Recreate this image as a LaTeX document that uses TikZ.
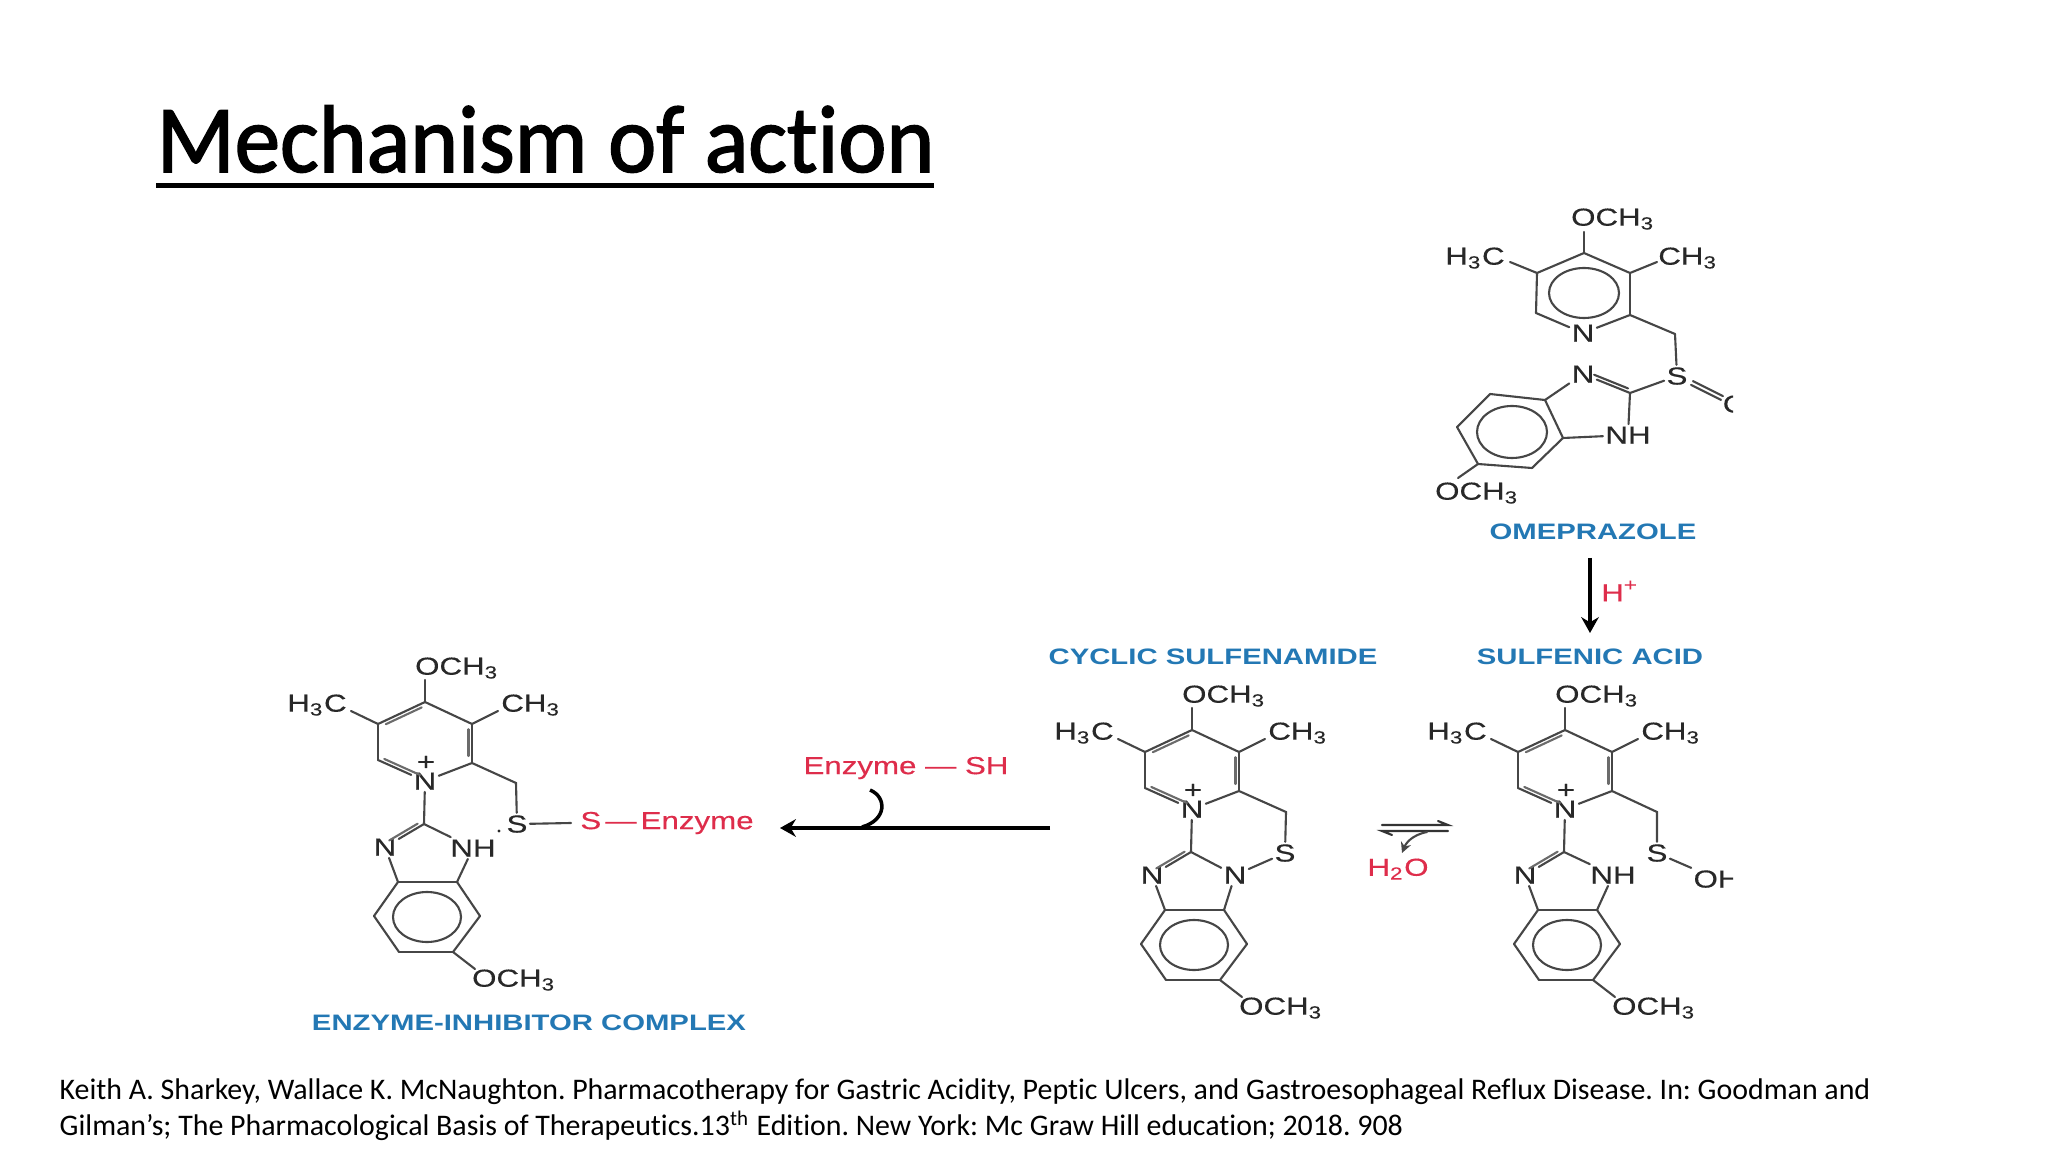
\documentclass[tikz,border=0pt]{standalone}
\usepackage{fontspec}
\usetikzlibrary{arrows.meta,calc}
\setmainfont[Ligatures=NoCommon]{Carlito}
\newfontfamily\titlefamily[FakeBold=1.6,FakeStretch=.95,Ligatures=NoCommon]{Carlito}
\newfontfamily\chemfamily[FakeStretch=1.27,FakeBold=.3]{Liberation Sans}
\newfontfamily\namefamily[FakeStretch=1.31]{Liberation Sans Bold}
\definecolor{bondgray}{RGB}{70,70,70}
\definecolor{atomgray}{RGB}{40,40,40}
\definecolor{namecolor}{RGB}{35,120,180}
\definecolor{agentcolor}{RGB}{222,45,75}
\frenchspacing
\tikzset{
	bond/.style={draw=bondgray, line width=.6pt, line cap=round},
	atom/.style={text=atomgray, inner sep=.5pt, yshift=-.3pt, font=\chemfamily\fontsize{7}{8}\selectfont},
	agent/.style={atom, text=agentcolor},
	drugname/.style={text=namecolor, inner sep=0pt, yshift=-.3pt, font=\namefamily\fontsize{6.36}{7}\selectfont},
	bigarrow/.style={draw=black, line width=1pt, -{Stealth[length=4.5pt,width=5pt]}},
}
% the pyridinium + benzimidazole part shared by the three lower structures
\newcommand{\drugcore}[3]{
	\begin{scope}[shift={(#2,#3)}]
		\node[atom] (#1och) at (1224,695) {OCH\textsubscript{3}};
		\node[atom] (#1hc) at (1084,732) {H\textsubscript{3}C};
		\node[atom] (#1ch) at (1298,732) {CH\textsubscript{3}};
		\node[atom] (#1np) at (1192,808) {N};
		\node[atom] (#1plus) at (1193,790) {+};
		\node[atom] (#1nl) at (1152,874) {N};
		\node[atom] (#1oc) at (1281,1007) {OCH\textsubscript{3}};
		\coordinate (#1a) at (1192,708);
		\coordinate (#1b) at (1118,739);
		\coordinate (#1d) at (1265,739);
		\coordinate (#1e) at (1242,997);
		\coordinate (#1c4) at (1192,730);
		\coordinate (#1c5) at (1145,752);
		\coordinate (#1c3) at (1239,752);
		\coordinate (#1c6) at (1145,788);
		\coordinate (#1c2) at (1239,791);
		\coordinate (#1cn) at (1191,852);
		\coordinate (#1h1) at (1165,910);
		\coordinate (#1h2) at (1224,910);
		\coordinate (#1h3) at (1247,944);
		\coordinate (#1h4) at (1220,980);
		\coordinate (#1h5) at (1166,980);
		\coordinate (#1h6) at (1141,944);
		\coordinate (#1m) at (1194,945);
		\foreach \a/\b in {c4/a,c5/b,c3/d,c4/c5,c4/c3,c3/c2,c5/c6,c6/np,c2/np,np/cn,nl/cn,nl/h1,h1/h2,h2/h3,h3/h4,h4/h5,h5/h6,h6/h1,h4/e}
			\draw[bond] (#1\a) -- (#1\b);
		% inner lines of the double bonds
		\foreach \a/\b/\s in {c4/c5/90,c3/c2/-90,c6/np/90,cn/nl/-90}
			\draw[bond, draw=bondgray!80, shorten >=2pt, shorten <=1.5pt] ($(#1\a)!1pt!\s:(#1\b)$) -- ($(#1\b)!1pt!-\s:(#1\a)$);
		\draw[bond] (#1m) ellipse [x radius=34, y radius=25];
	\end{scope}
}

\begin{document}
\begin{tikzpicture}[x=.01cm, y=-.01cm]
	\useasboundingbox (0,0) rectangle (2048,1152);

	% title
	\node[anchor=base west, inner sep=0pt, font=\titlefamily\fontsize{27.3}{30}\selectfont] (title) at (156,172) {Mechanism of action};
	\coordinate (ulstart) at (156,185.5);
	\coordinate (ulend) at (934,185.5);
	\draw[line width=1.5pt] (ulstart) -- (ulend);

	% omeprazole
	\node[atom] (omeoch) at (1613,218) {OCH\textsubscript{3}};
	\node[atom] (omehc) at (1475,257) {H\textsubscript{3}C};
	\node[atom] (omech) at (1688,257) {CH\textsubscript{3}};
	\node[atom] (omen) at (1583,332) {N};
	\node[atom] (omenb) at (1583,373) {N};
	\node[atom] (omes) at (1677,375) {S};
	\node[atom] (omenh) at (1628,434) {NH};
	\node[atom] (omeocb) at (1477,492) {OCH\textsubscript{3}};
	\coordinate (omea) at (1584,232);
	\coordinate (omeb) at (1510,262);
	\coordinate (omed) at (1657,262);
	\coordinate (omec4) at (1584,253);
	\coordinate (omec3) at (1630,273);
	\coordinate (omec2) at (1630,315);
	\coordinate (omec5) at (1537,273);
	\coordinate (omec6) at (1536,313);
	\coordinate (omecb) at (1675,334);
	\coordinate (omecn) at (1630,393);
	\coordinate (omeh1) at (1490,394);
	\coordinate (omeh2) at (1545,400);
	\coordinate (omeh3) at (1563,438);
	\coordinate (omeh4) at (1532,468);
	\coordinate (omeh5) at (1478,464);
	\coordinate (omeh6) at (1457,427);
	\coordinate (omee) at (1458,478);
	\coordinate (omem) at (1584,293);
	\coordinate (omen2) at (1512,432);
	\coordinate (omeo1) at (1692,383);
	\coordinate (omeo2) at (1722,398);
	\foreach \a/\b in {c4/a,c5/b,c3/d,c4/c5,c4/c3,c3/c2,c5/c6,c6/n,c2/n,c2/cb,cb/s,s/cn,nb/cn,nh/cn,nb/h2,nh/h3,h1/h2,h2/h3,h3/h4,h4/h5,h5/h6,h6/h1,h5/e}
		\draw[bond] (ome\a) -- (ome\b);
	\draw[bond, shorten >=3pt, shorten <=1pt] ($(omecn)!1pt!-90:(omenb)$) -- ($(omenb)!1pt!90:(omecn)$);
	\draw[bond] (omem) ellipse [x radius=35, y radius=25];
	\draw[bond] (omen2) ellipse [x radius=35, y radius=26];
	\draw[bond] ($(omeo1)!.6pt!90:(omeo2)$) -- ($(omeo2)!.6pt!-90:(omeo1)$);
	\draw[bond] ($(omeo1)!.6pt!-90:(omeo2)$) -- ($(omeo2)!.6pt!90:(omeo1)$);
	\node[drugname] (omename) at (1593,531) {OMEPRAZOLE};
	\coordinate (omearrow) at (1590,558);
	\node[drugname, inner sep=0pt] (sulname) at (1590,656) {SULFENIC ACID};
	\coordinate (sularrow) at (1590,633);
	\draw[bigarrow] (omearrow) -- (sularrow);
	\node[agent] (hplus) at (1620,590) {H\textsuperscript{+}};

	% sulfenic acid
	\drugcore{sul}{373}{0}
	\node[atom] (sulnh) at (1613,874) {NH};
	\node[atom] (suls) at (1657,852) {S};
	\coordinate (sulch2) at (1657,812);
	\draw[bond] (sulc2) -- (sulch2) -- (suls);
	\draw[bond] (sulcn) -- (sulnh);
	\draw[bond] (sulnh) -- (sulh2);

	% right edge of the cropped figure
	\begin{scope}
		\clip (1500,380) rectangle (1733,900);
		\node[atom] (omeo) at (1735,403) {O};
		\node[atom] (suloh) at (1717,878) {OH};
		\draw[bond] (suls) -- (suloh);
	\end{scope}

	% cyclic sulfenamide
	\node[drugname] (cycname) at (1213,656) {CYCLIC SULFENAMIDE};
	\drugcore{cyc}{0}{0}
	\node[atom] (cycnr) at (1235,874) {N};
	\node[atom] (cycs) at (1285,852) {S};
	\coordinate (cycch2) at (1286,812);
	\draw[bond] (cycc2) -- (cycch2) -- (cycs);
	\draw[bond] (cyccn) -- (cycnr);
	\draw[bond] (cycnr) -- (cycs);
	\draw[bond] (cycnr) -- (cych2);

	% equilibrium
	\coordinate (eqa) at (1382,825);
	\coordinate (eqb) at (1448,825);
	\coordinate (eqc) at (1438,821);
	\coordinate (eqd) at (1448,831);
	\coordinate (eqe) at (1382,831);
	\coordinate (eqf) at (1392,835);
	\draw[bond, draw=black!80] (eqa) -- (eqb) -- (eqc);
	\draw[bond, draw=black!80] (eqd) -- (eqe) -- (eqf);
	\coordinate (wata) at (1427,832);
	\coordinate (watb) at (1402,853);
	\draw[bond, -{Stealth[length=3pt,width=3pt]}] (wata) .. controls (1412,835) and (1406,843) .. (watb);
	\node[agent] (water) at (1398,868) {H\textsubscript{2}O};

	% enzyme-inhibitor complex
	\drugcore{enz}{-767}{-28}
	\node[atom] (enznh) at (473,847) {NH};
	\node[atom] (enzs) at (517,823) {S};
	\node[agent] (enzred) at (667,822) {S\,—\,Enzyme};
	\coordinate (enzch2) at (516,783);
	\coordinate (enzsr) at (571,823);
	\coordinate (enzdot) at (499,831);
	\draw[bond] (enzc2) -- (enzch2) -- (enzs);
	\draw[bond] (enzs) -- (enzsr);
	\draw[bond] (enzcn) -- (enznh);
	\draw[bond] (enznh) -- (enzh2);
	\fill[atomgray] (enzdot) circle [radius=.45pt];
	\node[drugname] (enzname) at (529,1022) {ENZYME-INHIBITOR COMPLEX};

	% attack by the enzyme
	\node[agent] (enzsh) at (906,767) {Enzyme — SH};
	\coordinate (attacka) at (1050,828);
	\coordinate (attackb) at (780,828);
	\coordinate (curla) at (870,790);
	\coordinate (curlb) at (862,827);
	\draw[bigarrow] (attacka) -- (attackb);
	\draw[draw=black, line width=1pt] (curla) .. controls (887,797) and (887,820) .. (curlb);

	% reference
	\node[anchor=base west, inner sep=0pt, font=\fontsize{8.5}{10}\selectfont] (refa) at (59,1099) {Keith A. Sharkey, Wallace K. McNaughton. Pharmacotherapy for Gastric Acidity, Peptic Ulcers, and Gastroesophageal Reflux Disease. In: Goodman and};
	\node[anchor=base west, inner sep=0pt, font=\fontsize{8.5}{10}\selectfont] (refb) at (59,1135) {Gilman’s; The Pharmacological Basis of Therapeutics.13\textsuperscript{th} Edition. New York: Mc Graw Hill education; 2018. 908};
\end{tikzpicture}
\end{document}
